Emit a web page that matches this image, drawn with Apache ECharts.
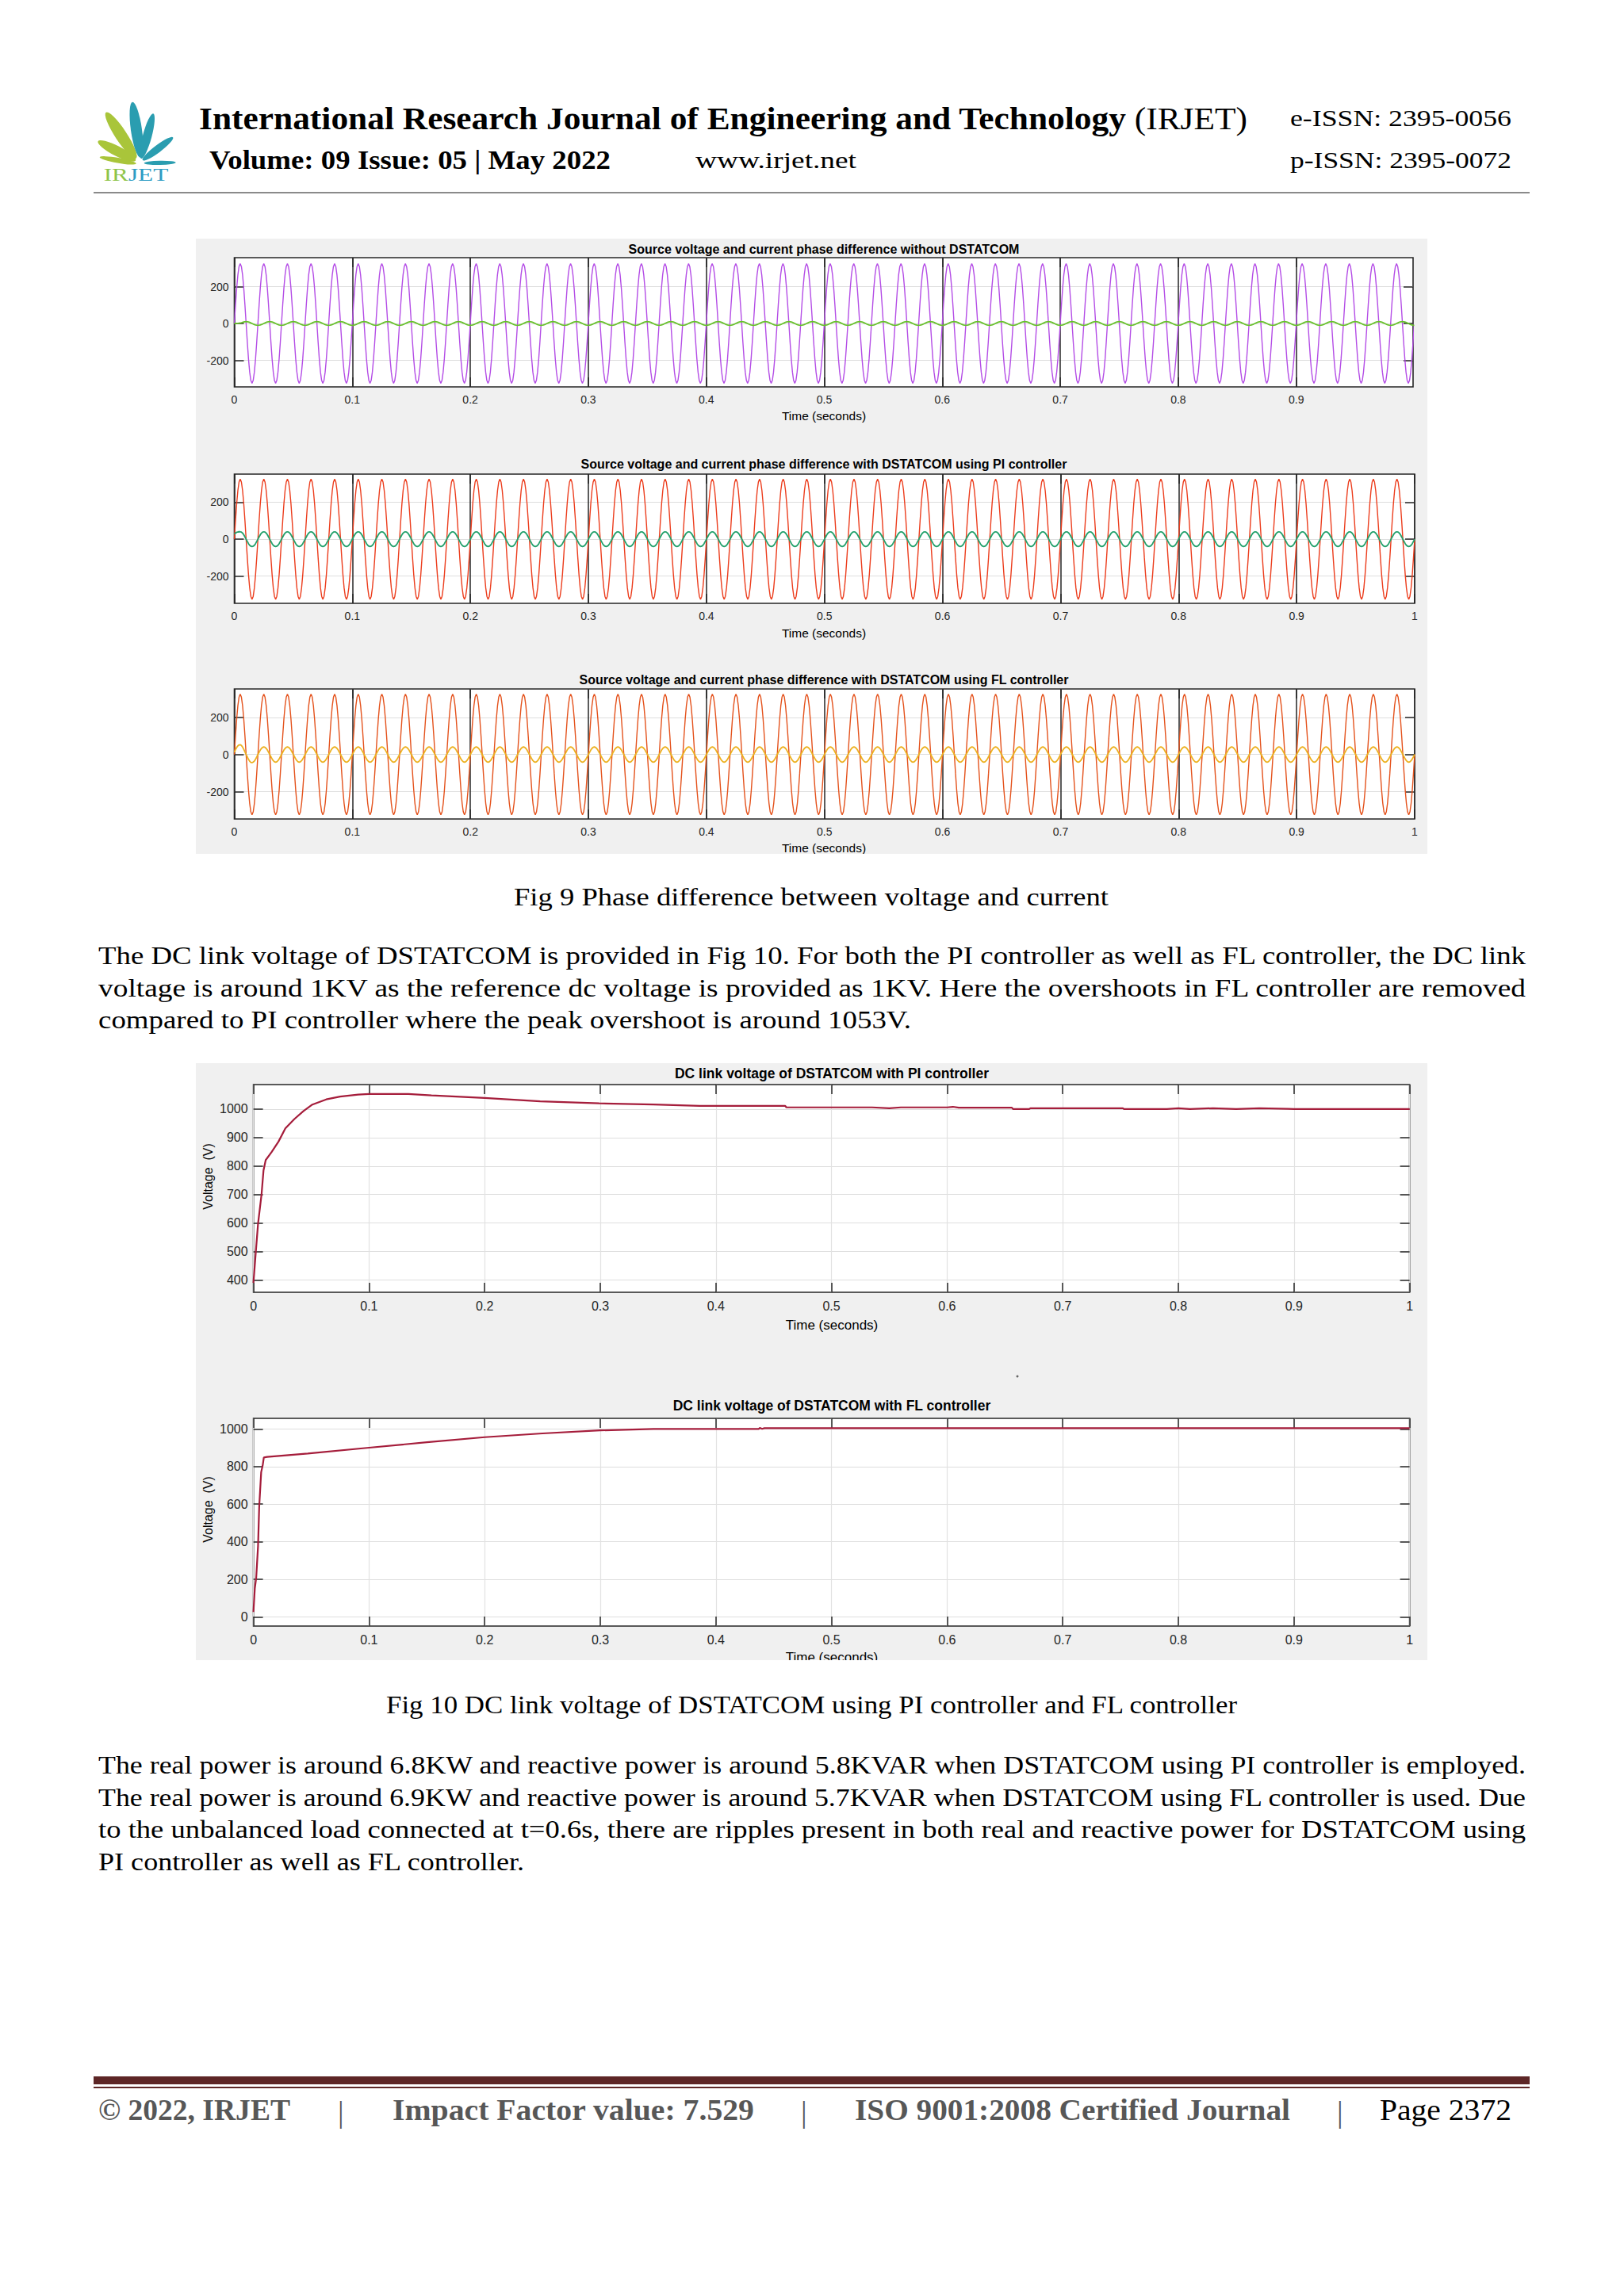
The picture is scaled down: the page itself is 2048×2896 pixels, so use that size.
<!DOCTYPE html>
<html>
<head>
<meta charset="utf-8">
<title>IRJET Vol 09 Issue 05 - Page 2372</title>
<script src="https://cdn.jsdelivr.net/npm/echarts@6.0.0/dist/echarts.min.js"></script>
<style>
html,body{margin:0;padding:0;background:#fff;}
body{width:2048px;height:2896px;position:relative;overflow:hidden;}
.panel{position:absolute;background:#f0f0f0;z-index:0;}
#chart{position:absolute;left:0;top:0;width:2048px;height:2896px;z-index:1;}
.clip{position:absolute;background:#fff;z-index:2;}
.t{position:absolute;white-space:nowrap;line-height:1;font-family:"Liberation Serif","DejaVu Serif",serif;color:#000;z-index:3;transform-origin:0 50%;}
.bar{position:absolute;z-index:3;}
.ft{font-weight:bold;color:#575757;font-size:38px;}
.pipe{color:#575757;font-size:38px;}
</style>
</head>
<body>
<div class="panel" style="left:247px;top:301px;width:1553px;height:776px"></div>
<div class="panel" style="left:247px;top:1341px;width:1553px;height:753px"></div>
<div id="chart"></div>
<div class="clip" style="left:247px;top:1077px;width:1553px;height:22px"></div>
<div class="clip" style="left:247px;top:2094px;width:1553px;height:22px"></div>

<!-- header -->
<svg style="position:absolute;left:110px;top:115px;z-index:3" width="130" height="135" viewBox="0 0 390 405">
  <g fill="#a9c53a">
    <ellipse cx="112" cy="226" rx="80" ry="19" transform="rotate(27 112 226)"/>
    <ellipse cx="128" cy="167" rx="104" ry="22" transform="rotate(56.7 128 167)"/>
    <ellipse cx="116" cy="262" rx="70" ry="10" transform="rotate(10 116 262)"/>
  </g>
  <g fill="#2a9db0">
    <ellipse cx="186" cy="146" rx="106" ry="21" transform="rotate(81.9 186 146)"/>
    <ellipse cx="227" cy="170" rx="88" ry="17" transform="rotate(-75 227 170)"/>
    <ellipse cx="267" cy="218" rx="72" ry="14" transform="rotate(-37 267 218)"/>
    <ellipse cx="275" cy="271" rx="60" ry="8" transform="rotate(-1 275 271)"/>
  </g>
  <text x="62" y="340" font-family="Liberation Serif, serif" font-size="70" textLength="245" lengthAdjust="spacingAndGlyphs"><tspan fill="#8fc44a">IR</tspan><tspan fill="#2e9cc4">JET</tspan></text>
</svg>
<div class="t" style="left:251px;top:130px;font-size:40px" data-w="1322"><b>International Research Journal of Engineering and Technology</b> (IRJET)</div>
<div class="t" style="left:1627px;top:135px;font-size:29px" data-w="279">e-ISSN: 2395-0056</div>
<div class="t" style="left:264px;top:186px;font-size:33px;font-weight:bold" data-w="506">Volume: 09 Issue: 05 | May 2022</div>
<div class="t" style="left:877px;top:188px;font-size:29px" data-w="203">www.irjet.net</div>
<div class="t" style="left:1627px;top:188px;font-size:29px" data-w="279">p-ISSN: 2395-0072</div>
<div class="bar" style="left:118px;top:242px;width:1811px;height:2px;background:#8a8a8a"></div>

<!-- body text -->
<div class="t" style="left:648px;top:1116px;font-size:31px" data-w="750">Fig 9 Phase difference between voltage and current</div>
<div class="t" style="left:124px;top:1190px;font-size:31px" data-w="1800">The DC link voltage of DSTATCOM is provided in Fig 10. For both the PI controller as well as FL controller, the DC link</div>
<div class="t" style="left:124px;top:1231px;font-size:31px" data-w="1800">voltage is around 1KV as the reference dc voltage is provided as 1KV. Here the overshoots in FL controller are removed</div>
<div class="t" style="left:124px;top:1271px;font-size:31px" data-w="1025">compared to PI controller where the peak overshoot is around 1053V.</div>
<div class="t" style="left:487px;top:2135px;font-size:31px" data-w="1073">Fig 10 DC link voltage of DSTATCOM using PI controller and FL controller</div>
<div class="t" style="left:124px;top:2211px;font-size:31px" data-w="1800">The real power is around 6.8KW and reactive power is around 5.8KVAR when DSTATCOM using PI controller is employed.</div>
<div class="t" style="left:124px;top:2252px;font-size:31px" data-w="1800">The real power is around 6.9KW and reactive power is around 5.7KVAR when DSTATCOM using FL controller is used. Due</div>
<div class="t" style="left:124px;top:2292px;font-size:31px" data-w="1800">to the unbalanced load connected at t=0.6s, there are ripples present in both real and reactive power for DSTATCOM using</div>
<div class="t" style="left:124px;top:2333px;font-size:31px" data-w="537">PI controller as well as FL controller.</div>

<!-- footer -->
<div class="bar" style="left:118px;top:2619px;width:1811px;height:10px;background:#5d2626"></div>
<div class="bar" style="left:118px;top:2632px;width:1811px;height:2px;background:#5d2626"></div>
<div class="t ft" style="left:124px;top:2642px" data-w="242">© 2022, IRJET</div>
<div class="t pipe" style="left:426px;top:2645px">|</div>
<div class="t ft" style="left:495px;top:2642px" data-w="456">Impact Factor value: 7.529</div>
<div class="t pipe" style="left:1010px;top:2645px">|</div>
<div class="t ft" style="left:1078px;top:2642px" data-w="549">ISO 9001:2008 Certified Journal</div>
<div class="t pipe" style="left:1686px;top:2645px">|</div>
<div class="t" style="left:1740px;top:2642px;font-size:38px" data-w="166">Page 2372</div>

<script>
// ---------------- data ----------------
const timeTicks = [0, 0.1, 0.2, 0.3, 0.4, 0.5, 0.6, 0.7, 0.8, 0.9, 1];
const waveTicks = [-200, 0, 200];
const piVoltageTicks = [400, 500, 600, 700, 800, 900, 1000];
const flVoltageTicks = [0, 200, 400, 600, 800, 1000];

// Fig 9: one 20 ms (50 Hz) cycle sampled every 1 ms, 50 cycles shown
const cyclePeriod = 0.02;
const cycleCount = 50;
const sourceVoltageCycle = [0, 100, 191, 263, 309, 325, 309, 263, 191, 100, 0, -100, -191, -263, -309, -325, -309, -263, -191, -100];
const currentNoCompFirstCycle = [0, 0, 1, 1, 2, 3, 4, 6, 8, 9.5, 10, 9.5, 8, 6, 3, 0, -3, -6, -8, -9.5];
const currentNoCompCycle = [-10, -9.5, -8, -6, -3, 0, 3, 6, 8, 9.5, 10, 9.5, 8, 6, 3, 0, -3, -6, -8, -9.5];
const currentPIFirstCycle = [28, 33, 37, 39, 40, 40, 38, 33, 24, 12, 0, -12, -24, -33, -38, -40, -38, -33, -24, -12];
const currentPICycle = [0, 12, 24, 33, 38, 40, 38, 33, 24, 12, 0, -12, -24, -33, -38, -40, -38, -33, -24, -12];
const currentFLFirstCycle = [12, 26, 38, 47, 52, 53, 49, 40, 28, 14, 0, -13, -26, -36, -42, -44, -41, -35, -25, -13];
const currentFLCycle = [0, 12, 24, 33, 39, 41, 39, 33, 24, 12, 0, -12, -24, -33, -39, -41, -39, -33, -24, -12];

// Fig 10: DC link voltage traces
const piTime = [0, 0.002, 0.004, 0.007, 0.0087, 0.0106, 0.0157, 0.0217, 0.0276, 0.0354, 0.0433, 0.051, 0.063, 0.075, 0.0906, 0.1, 0.134, 0.154, 0.2, 0.248, 0.299, 0.346, 0.386, 0.46, 0.461, 0.535, 0.55, 0.56, 0.6, 0.605, 0.61, 0.656, 0.657, 0.671, 0.672, 0.752, 0.753, 0.79, 0.8, 0.81, 0.83, 0.85, 0.87, 0.895, 0.9, 1.0];
const piVoltage = [390, 496, 598, 700, 784, 821, 849, 886, 932, 965, 993, 1016, 1034, 1044, 1051, 1053, 1053, 1048, 1039, 1027, 1020, 1016, 1011, 1011, 1006, 1006, 1003, 1006, 1006, 1008, 1005, 1005, 1000, 1000, 1003, 1003, 1000, 1000, 1003, 1000, 1003, 1000, 1003, 1001, 1000, 1000];
const flTime = [0, 0.0012, 0.0024, 0.004, 0.005, 0.0067, 0.008, 0.009, 0.0118, 0.047, 0.1, 0.15, 0.2, 0.25, 0.3, 0.346, 0.437, 0.438, 0.44, 0.442, 1.0];
const flVoltage = [27, 153, 209, 378, 588, 770, 806, 848, 851, 869, 900, 929, 956, 976, 992, 1000, 1000, 1005, 1000, 1004, 1004];

// ---------------- build ----------------
function periodic(cycle, firstCycle) {
  const pts = [];
  const n = cycle.length;
  for (let c = 0; c < cycleCount; c++) {
    const src = (c === 0 && firstCycle) ? firstCycle : cycle;
    for (let k = 0; k < n; k++) pts.push([(c * n + k) * cyclePeriod / n, src[k]]);
  }
  pts.push([cycleCount * cyclePeriod, cycle[0]]);
  return pts;
}
function zip(xs, ys) { return xs.map((x, i) => [x, ys[i]]); }

const SANS = '"Liberation Sans", Arial, Helvetica, sans-serif';
const INK = '#262626';
const plain = v => String(+v.toFixed(4));

const panels = [
  { grid: { left: 295.5, top: 325, width: 1486.5, height: 163 }, xMax: 0.999, yMin: -344, yMax: 357, yTicks: waveTicks, darkX: true, fs: 14,
    series: [ { data: periodic(sourceVoltageCycle), color: '#b44de6', width: 1.4 },
              { data: periodic(currentNoCompCycle, currentNoCompFirstCycle), color: '#67c02b', width: 1.8 } ] },
  { grid: { left: 295.5, top: 598, width: 1488.5, height: 163 }, xMax: 1, yMin: -347, yMax: 352, yTicks: waveTicks, darkX: true, fs: 14,
    series: [ { data: periodic(sourceVoltageCycle), color: '#ec3d1d', width: 1.4 },
              { data: periodic(currentPICycle, currentPIFirstCycle), color: '#22a06b', width: 1.8 } ] },
  { grid: { left: 295.5, top: 869, width: 1488.5, height: 164 }, xMax: 1, yMin: -347, yMax: 353, yTicks: waveTicks, darkX: true, fs: 14,
    series: [ { data: periodic(sourceVoltageCycle), color: '#e4521c', width: 1.4 },
              { data: periodic(currentFLCycle, currentFLFirstCycle), color: '#edb120', width: 1.8 } ] },
  { grid: { left: 319.6, top: 1368, width: 1458, height: 262 }, xMax: 1, yMin: 357, yMax: 1086, yTicks: piVoltageTicks, darkX: false, fs: 16,
    series: [ { data: zip(piTime, piVoltage), color: '#a51d3b', width: 2.2 } ] },
  { grid: { left: 319.6, top: 1789, width: 1458, height: 262 }, xMax: 1, yMin: -48, yMax: 1056, yTicks: flVoltageTicks, darkX: false, fs: 16,
    series: [ { data: zip(flTime, flVoltage), color: '#a51d3b', width: 2.2 } ] }
];

const grid = [], xAxis = [], yAxis = [], series = [];
panels.forEach((p, i) => {
  grid.push(Object.assign({ show: true, backgroundColor: '#ffffff', borderColor: INK, borderWidth: 1.6, containLabel: false }, p.grid));
  const tickStyle = { color: INK, width: 1.5 };
  const noLine = { show: false, onZero: false };
  xAxis.push({ gridIndex: i, type: 'value', position: 'bottom', min: 0, max: p.xMax,
    axisLine: noLine,
    axisTick: { show: true, inside: true, length: 12, customValues: timeTicks, lineStyle: tickStyle },
    axisLabel: { show: true, customValues: timeTicks, formatter: plain, color: INK, fontSize: p.fs, fontFamily: SANS, margin: 9, showMinLabel: true, showMaxLabel: true },
    splitLine: { show: true, lineStyle: { color: p.darkX ? '#333333' : '#e2e2e2', width: p.darkX ? 1.6 : 1.2 } } });
  xAxis.push({ gridIndex: i, type: 'value', position: 'top', min: 0, max: p.xMax,
    axisLine: noLine,
    axisTick: { show: true, inside: true, length: 12, customValues: timeTicks, lineStyle: tickStyle },
    axisLabel: { show: false }, splitLine: { show: false } });
  yAxis.push({ gridIndex: i, type: 'value', position: 'left', min: p.yMin, max: p.yMax,
    axisLine: noLine,
    axisTick: { show: true, inside: true, length: 12, customValues: p.yTicks, lineStyle: tickStyle },
    axisLabel: { show: true, customValues: p.yTicks, formatter: plain, color: INK, fontSize: p.fs, fontFamily: SANS, margin: 7, showMinLabel: true, showMaxLabel: true },
    splitLine: { show: true, lineStyle: { color: '#dedede', width: 1.2 } } });
  yAxis.push({ gridIndex: i, type: 'value', position: 'right', min: p.yMin, max: p.yMax,
    axisLine: noLine,
    axisTick: { show: true, inside: true, length: 12, customValues: p.yTicks, lineStyle: tickStyle },
    axisLabel: { show: false }, splitLine: { show: false } });
  p.series.forEach(s => {
    series.push({ type: 'line', xAxisIndex: 2 * i, yAxisIndex: 2 * i, data: s.data, showSymbol: false, symbol: 'none',
      clip: true, silent: true, animation: false, lineStyle: { color: s.color, width: s.width } });
  });
});

function txt(text, x, y, size, bold, extra) {
  return Object.assign({ type: 'text', x: x, y: y, silent: true, z: 50,
    style: { text: text, fill: '#000', align: 'center', verticalAlign: 'middle',
      font: (bold ? 'bold ' : '') + size + 'px ' + SANS } }, extra || {});
}
const graphic = [
  txt('Source voltage and current phase difference without DSTATCOM', 1039, 314, 16, true),
  txt('Time (seconds)', 1039, 524, 15.5, false),
  txt('Source voltage and current phase difference with DSTATCOM using PI controller', 1039, 585, 16, true),
  txt('Time (seconds)', 1039, 798, 15.5, false),
  txt('Source voltage and current phase difference with DSTATCOM using FL controller', 1039, 857, 16, true),
  txt('Time (seconds)', 1039, 1069, 15.5, false),
  txt('DC link voltage of DSTATCOM with PI controller', 1049, 1354, 17.5, true),
  txt('Time (seconds)', 1049, 1671, 17, false),
  txt('Voltage  (V)', 262, 1484, 16, false, { rotation: Math.PI / 2 }),
  txt('DC link voltage of DSTATCOM with FL controller', 1049, 1773, 17.5, true),
  txt('Time (seconds)', 1049, 2090, 17, false),
  txt('Voltage  (V)', 262, 1904, 16, false, { rotation: Math.PI / 2 }),
  { type: 'circle', shape: { cx: 1283, cy: 1736, r: 1.5 }, style: { fill: '#666' }, silent: true }
];

const chart = echarts.init(document.getElementById('chart'), null, { renderer: 'svg', width: 2048, height: 2896 });
chart.setOption({ backgroundColor: 'transparent', animation: false, grid, xAxis, yAxis, series, graphic });

function fitTexts() {
  document.querySelectorAll('.t[data-w]').forEach(el => {
    el.style.transform = 'none';
    const nat = el.getBoundingClientRect().width;
    const w = +el.dataset.w;
    if (nat > 0) el.style.transform = 'scaleX(' + (w / nat) + ')';
  });
}
fitTexts();
if (document.fonts && document.fonts.ready) document.fonts.ready.then(fitTexts);
</script>
</body>
</html>
